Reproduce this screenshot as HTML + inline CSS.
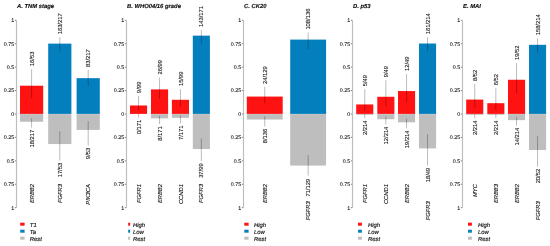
<!DOCTYPE html>
<html><head><meta charset="utf-8"><style>
html,body{margin:0;padding:0;background:#fff;}
svg{display:block;}
text{font-family:"Liberation Sans",Arial,sans-serif;fill:#111;stroke:#111;stroke-width:0.1px;text-rendering:geometricPrecision;}
.ti{font-size:5.85px;stroke-width:0.15px;font-weight:bold;font-style:italic;}
.tk{font-size:5.3px;text-anchor:end;stroke-width:0.08px;}
.vl{font-size:5.8px;}
.gn{font-size:5.8px;font-style:italic;text-anchor:end;}
.lg{font-size:5.9px;stroke-width:0.15px;font-style:italic;}
.ax{stroke:#bdbdbd;stroke-width:1.15;}
.tkl{stroke:#777;stroke-width:0.9;}
.er{stroke:#000;stroke-opacity:0.27;stroke-width:1;}
</style></head><body>
<svg width="550" height="246" viewBox="0 0 550 246">
<rect width="550" height="246" fill="#fff"/>
<text x="17" y="8.4" class="ti">A. TNM stage</text>
<line x1="16.5" y1="20.3" x2="16.5" y2="207.7" class="ax"/>
<line x1="14.8" y1="207.7" x2="16.2" y2="207.7" class="tkl"/>
<text x="14.1" y="209.6" class="tk">1</text>
<line x1="14.8" y1="184.28" x2="16.2" y2="184.28" class="tkl"/>
<text x="14.1" y="186.18" class="tk">0.75</text>
<line x1="14.8" y1="160.85" x2="16.2" y2="160.85" class="tkl"/>
<text x="14.1" y="162.75" class="tk">0.5</text>
<line x1="14.8" y1="137.43" x2="16.2" y2="137.43" class="tkl"/>
<text x="14.1" y="139.33" class="tk">0.25</text>
<line x1="14.8" y1="114" x2="16.2" y2="114" class="tkl"/>
<text x="14.1" y="115.9" class="tk">0</text>
<line x1="14.8" y1="90.58" x2="16.2" y2="90.58" class="tkl"/>
<text x="14.1" y="92.48" class="tk">0.25</text>
<line x1="14.8" y1="67.15" x2="16.2" y2="67.15" class="tkl"/>
<text x="14.1" y="69.05" class="tk">0.5</text>
<line x1="14.8" y1="43.72" x2="16.2" y2="43.72" class="tkl"/>
<text x="14.1" y="45.62" class="tk">0.75</text>
<line x1="14.8" y1="20.3" x2="16.2" y2="20.3" class="tkl"/>
<text x="14.1" y="22.2" class="tk">1</text>
<rect x="20" y="85.71" width="23.2" height="28.19" fill="#FF1212"/>
<rect x="20" y="114.1" width="23.2" height="7.67" fill="#BEBEBE"/>
<line x1="31.6" y1="69.15" x2="31.6" y2="98.14" class="er"/>
<line x1="31.6" y1="118.33" x2="31.6" y2="127.53" class="er"/>
<text transform="translate(33.69,66.15) rotate(-90)" class="vl">16/53</text>
<text transform="translate(33.69,129.73) rotate(-90)" class="vl" text-anchor="end">18/217</text>
<text transform="translate(33.69,184.1) rotate(-90)" class="gn">ERBB2</text>
<rect x="48.2" y="43.62" width="23.2" height="70.28" fill="#047FBD"/>
<rect x="48.2" y="114.1" width="23.2" height="29.95" fill="#BEBEBE"/>
<line x1="59.8" y1="37.3" x2="59.8" y2="51.33" class="er"/>
<line x1="59.8" y1="131.22" x2="59.8" y2="160.63" class="er"/>
<text transform="translate(61.89,34.3) rotate(-90)" class="vl">163/217</text>
<text transform="translate(61.89,162.83) rotate(-90)" class="vl" text-anchor="end">17/53</text>
<text transform="translate(61.89,184.1) rotate(-90)" class="gn">FGFR3</text>
<rect x="76.6" y="78.16" width="23.2" height="35.74" fill="#047FBD"/>
<rect x="76.6" y="114.1" width="23.2" height="15.81" fill="#BEBEBE"/>
<line x1="88.2" y1="69.98" x2="88.2" y2="85.68" class="er"/>
<line x1="88.2" y1="121.12" x2="88.2" y2="145.58" class="er"/>
<text transform="translate(90.29,66.98) rotate(-90)" class="vl">83/217</text>
<text transform="translate(90.29,147.78) rotate(-90)" class="vl" text-anchor="end">9/53</text>
<text transform="translate(90.29,184.1) rotate(-90)" class="gn">PIK3CA</text>
<rect x="20.2" y="222.7" width="4.4" height="3.0" fill="#FF1212"/>
<text x="29.8" y="226.6" class="lg">T1</text>
<rect x="20.2" y="229.7" width="4.4" height="3.0" fill="#047FBD"/>
<text x="29.8" y="233.55" class="lg">Ta</text>
<rect x="20.2" y="236.7" width="4.4" height="3.0" fill="#BEBEBE"/>
<text x="29.8" y="240.5" class="lg">Rest</text>
<text x="127" y="8.4" class="ti">B. WHO04/16 grade</text>
<line x1="126.5" y1="20.3" x2="126.5" y2="207.7" class="ax"/>
<line x1="124.8" y1="207.7" x2="126.2" y2="207.7" class="tkl"/>
<text x="124.1" y="209.6" class="tk">1</text>
<line x1="124.8" y1="184.28" x2="126.2" y2="184.28" class="tkl"/>
<text x="124.1" y="186.18" class="tk">0.75</text>
<line x1="124.8" y1="160.85" x2="126.2" y2="160.85" class="tkl"/>
<text x="124.1" y="162.75" class="tk">0.5</text>
<line x1="124.8" y1="137.43" x2="126.2" y2="137.43" class="tkl"/>
<text x="124.1" y="139.33" class="tk">0.25</text>
<line x1="124.8" y1="114" x2="126.2" y2="114" class="tkl"/>
<text x="124.1" y="115.9" class="tk">0</text>
<line x1="124.8" y1="90.58" x2="126.2" y2="90.58" class="tkl"/>
<text x="124.1" y="92.48" class="tk">0.25</text>
<line x1="124.8" y1="67.15" x2="126.2" y2="67.15" class="tkl"/>
<text x="124.1" y="69.05" class="tk">0.5</text>
<line x1="124.8" y1="43.72" x2="126.2" y2="43.72" class="tkl"/>
<text x="124.1" y="45.62" class="tk">0.75</text>
<line x1="124.8" y1="20.3" x2="126.2" y2="20.3" class="tkl"/>
<text x="124.1" y="22.2" class="tk">1</text>
<rect x="130" y="105.48" width="17.1" height="8.42" fill="#FF1212"/>
<line x1="138.55" y1="95.91" x2="138.55" y2="110.24" class="er"/>
<line x1="138.55" y1="114" x2="138.55" y2="117.5" class="er"/>
<text transform="translate(140.64,92.91) rotate(-90)" class="vl">9/99</text>
<text transform="translate(140.64,119.7) rotate(-90)" class="vl" text-anchor="end">0/171</text>
<text transform="translate(140.64,184.1) rotate(-90)" class="gn">FGFR1</text>
<rect x="151" y="89.39" width="17.1" height="24.51" fill="#FF1212"/>
<rect x="151" y="114.1" width="17.1" height="4.28" fill="#BEBEBE"/>
<line x1="159.55" y1="77.57" x2="159.55" y2="98.42" class="er"/>
<line x1="159.55" y1="115.83" x2="159.55" y2="124.11" class="er"/>
<text transform="translate(161.64,74.57) rotate(-90)" class="vl">26/99</text>
<text transform="translate(161.64,126.31) rotate(-90)" class="vl" text-anchor="end">8/171</text>
<text transform="translate(161.64,184.1) rotate(-90)" class="gn">ERBB2</text>
<rect x="171.9" y="99.8" width="17.1" height="14.1" fill="#FF1212"/>
<rect x="171.9" y="114.1" width="17.1" height="3.74" fill="#BEBEBE"/>
<line x1="180.45" y1="89.09" x2="180.45" y2="106.42" class="er"/>
<line x1="180.45" y1="115.51" x2="180.45" y2="123.37" class="er"/>
<text transform="translate(182.54,86.09) rotate(-90)" class="vl">15/99</text>
<text transform="translate(182.54,125.57) rotate(-90)" class="vl" text-anchor="end">7/171</text>
<text transform="translate(182.54,184.1) rotate(-90)" class="gn">CCND1</text>
<rect x="192.8" y="35.64" width="17.1" height="78.26" fill="#047FBD"/>
<rect x="192.8" y="114.1" width="17.1" height="34.92" fill="#BEBEBE"/>
<line x1="201.35" y1="30.02" x2="201.35" y2="43.62" class="er"/>
<line x1="201.35" y1="138.38" x2="201.35" y2="161.15" class="er"/>
<text transform="translate(203.44,27.02) rotate(-90)" class="vl">143/171</text>
<text transform="translate(203.44,163.35) rotate(-90)" class="vl" text-anchor="end">37/99</text>
<text transform="translate(203.44,184.1) rotate(-90)" class="gn">FGFR3</text>
<rect x="128.2" y="222.7" width="1.9" height="3.0" fill="#FF1212"/>
<text x="133" y="226.6" class="lg">High</text>
<rect x="128.2" y="229.7" width="1.9" height="3.0" fill="#047FBD"/>
<text x="133" y="233.55" class="lg">Low</text>
<rect x="128.2" y="236.7" width="1.9" height="3.0" fill="#BEBEBE"/>
<text x="133" y="240.5" class="lg">Rest</text>
<text x="244" y="8.4" class="ti">C. CK20</text>
<line x1="243.5" y1="20.3" x2="243.5" y2="207.7" class="ax"/>
<line x1="241.8" y1="207.7" x2="243.2" y2="207.7" class="tkl"/>
<text x="241.1" y="209.6" class="tk">1</text>
<line x1="241.8" y1="184.28" x2="243.2" y2="184.28" class="tkl"/>
<text x="241.1" y="186.18" class="tk">0.75</text>
<line x1="241.8" y1="160.85" x2="243.2" y2="160.85" class="tkl"/>
<text x="241.1" y="162.75" class="tk">0.5</text>
<line x1="241.8" y1="137.43" x2="243.2" y2="137.43" class="tkl"/>
<text x="241.1" y="139.33" class="tk">0.25</text>
<line x1="241.8" y1="114" x2="243.2" y2="114" class="tkl"/>
<text x="241.1" y="115.9" class="tk">0</text>
<line x1="241.8" y1="90.58" x2="243.2" y2="90.58" class="tkl"/>
<text x="241.1" y="92.48" class="tk">0.25</text>
<line x1="241.8" y1="67.15" x2="243.2" y2="67.15" class="tkl"/>
<text x="241.1" y="69.05" class="tk">0.5</text>
<line x1="241.8" y1="43.72" x2="243.2" y2="43.72" class="tkl"/>
<text x="241.1" y="45.62" class="tk">0.75</text>
<line x1="241.8" y1="20.3" x2="243.2" y2="20.3" class="tkl"/>
<text x="241.1" y="22.2" class="tk">1</text>
<rect x="246.8" y="96.57" width="35.9" height="17.33" fill="#FF1212"/>
<rect x="246.8" y="114.1" width="35.9" height="5.41" fill="#BEBEBE"/>
<line x1="264.75" y1="86.94" x2="264.75" y2="103.32" class="er"/>
<line x1="264.75" y1="116.31" x2="264.75" y2="126.56" class="er"/>
<text transform="translate(266.84,83.94) rotate(-90)" class="vl">24/129</text>
<text transform="translate(266.84,128.76) rotate(-90)" class="vl" text-anchor="end">8/136</text>
<text transform="translate(266.84,184.1) rotate(-90)" class="gn">ERBB2</text>
<rect x="290.2" y="39.59" width="35.9" height="74.31" fill="#047FBD"/>
<rect x="290.2" y="114.1" width="35.9" height="51.47" fill="#BEBEBE"/>
<line x1="308.15" y1="32.6" x2="308.15" y2="49.14" class="er"/>
<line x1="308.15" y1="155.03" x2="308.15" y2="175.65" class="er"/>
<text transform="translate(310.24,29.6) rotate(-90)" class="vl">108/136</text>
<text transform="translate(310.24,178.85) rotate(-90)" class="vl" text-anchor="end">71/129</text>
<text transform="translate(310.24,201.3) rotate(-90)" class="gn">FGFR3</text>
<rect x="244.3" y="222.7" width="4.3" height="3.0" fill="#FF1212"/>
<text x="254" y="226.6" class="lg">High</text>
<rect x="244.3" y="229.7" width="4.3" height="3.0" fill="#047FBD"/>
<text x="254" y="233.55" class="lg">Low</text>
<rect x="244.3" y="236.7" width="4.3" height="3.0" fill="#BEBEBE"/>
<text x="254" y="240.5" class="lg">Rest</text>
<text x="353" y="8.4" class="ti">D. p53</text>
<line x1="352.5" y1="20.3" x2="352.5" y2="207.7" class="ax"/>
<line x1="350.8" y1="207.7" x2="352.2" y2="207.7" class="tkl"/>
<text x="350.1" y="209.6" class="tk">1</text>
<line x1="350.8" y1="184.28" x2="352.2" y2="184.28" class="tkl"/>
<text x="350.1" y="186.18" class="tk">0.75</text>
<line x1="350.8" y1="160.85" x2="352.2" y2="160.85" class="tkl"/>
<text x="350.1" y="162.75" class="tk">0.5</text>
<line x1="350.8" y1="137.43" x2="352.2" y2="137.43" class="tkl"/>
<text x="350.1" y="139.33" class="tk">0.25</text>
<line x1="350.8" y1="114" x2="352.2" y2="114" class="tkl"/>
<text x="350.1" y="115.9" class="tk">0</text>
<line x1="350.8" y1="90.58" x2="352.2" y2="90.58" class="tkl"/>
<text x="350.1" y="92.48" class="tk">0.25</text>
<line x1="350.8" y1="67.15" x2="352.2" y2="67.15" class="tkl"/>
<text x="350.1" y="69.05" class="tk">0.5</text>
<line x1="350.8" y1="43.72" x2="352.2" y2="43.72" class="tkl"/>
<text x="350.1" y="45.62" class="tk">0.75</text>
<line x1="350.8" y1="20.3" x2="352.2" y2="20.3" class="tkl"/>
<text x="350.1" y="22.2" class="tk">1</text>
<rect x="356.2" y="104.44" width="17.1" height="9.46" fill="#FF1212"/>
<rect x="356.2" y="114.1" width="17.1" height="0.78" fill="#BEBEBE"/>
<line x1="364.75" y1="89.23" x2="364.75" y2="110.75" class="er"/>
<line x1="364.75" y1="114.17" x2="364.75" y2="118.35" class="er"/>
<text transform="translate(366.84,86.23) rotate(-90)" class="vl">5/49</text>
<text transform="translate(366.84,120.55) rotate(-90)" class="vl" text-anchor="end">2/214</text>
<text transform="translate(366.84,184.1) rotate(-90)" class="gn">FGFR1</text>
<rect x="377.3" y="96.79" width="17.1" height="17.11" fill="#FF1212"/>
<rect x="377.3" y="114.1" width="17.1" height="5.15" fill="#BEBEBE"/>
<line x1="385.85" y1="80.24" x2="385.85" y2="106.27" class="er"/>
<line x1="385.85" y1="116.56" x2="385.85" y2="124.45" class="er"/>
<text transform="translate(387.94,77.24) rotate(-90)" class="vl">9/49</text>
<text transform="translate(387.94,126.65) rotate(-90)" class="vl" text-anchor="end">12/214</text>
<text transform="translate(387.94,184.1) rotate(-90)" class="gn">CCND1</text>
<rect x="398" y="91.05" width="17.1" height="22.85" fill="#FF1212"/>
<rect x="398" y="114.1" width="17.1" height="8.22" fill="#BEBEBE"/>
<line x1="406.55" y1="74" x2="406.55" y2="102.41" class="er"/>
<line x1="406.55" y1="118.71" x2="406.55" y2="128.24" class="er"/>
<text transform="translate(408.64,71) rotate(-90)" class="vl">12/49</text>
<text transform="translate(408.64,130.44) rotate(-90)" class="vl" text-anchor="end">19/214</text>
<text transform="translate(408.64,184.1) rotate(-90)" class="gn">ERBB2</text>
<rect x="419" y="43.51" width="17.1" height="70.39" fill="#047FBD"/>
<rect x="419" y="114.1" width="17.1" height="34.32" fill="#BEBEBE"/>
<line x1="427.55" y1="37.17" x2="427.55" y2="51.27" class="er"/>
<line x1="427.55" y1="134.23" x2="427.55" y2="165.57" class="er"/>
<text transform="translate(429.64,34.17) rotate(-90)" class="vl">161/214</text>
<text transform="translate(429.64,167.77) rotate(-90)" class="vl" text-anchor="end">18/49</text>
<text transform="translate(429.64,201.3) rotate(-90)" class="gn">FGFR3</text>
<rect x="358" y="222.7" width="3.9" height="3.0" fill="#FF1212"/>
<text x="368" y="226.6" class="lg">High</text>
<rect x="358" y="229.7" width="3.9" height="3.0" fill="#047FBD"/>
<text x="368" y="233.55" class="lg">Low</text>
<rect x="358" y="236.7" width="3.9" height="3.0" fill="#BEBEBE"/>
<text x="368" y="240.5" class="lg">Rest</text>
<text x="463" y="8.4" class="ti">E. MAI</text>
<line x1="462.5" y1="20.3" x2="462.5" y2="207.7" class="ax"/>
<line x1="460.8" y1="207.7" x2="462.2" y2="207.7" class="tkl"/>
<text x="460.1" y="209.6" class="tk">1</text>
<line x1="460.8" y1="184.28" x2="462.2" y2="184.28" class="tkl"/>
<text x="460.1" y="186.18" class="tk">0.75</text>
<line x1="460.8" y1="160.85" x2="462.2" y2="160.85" class="tkl"/>
<text x="460.1" y="162.75" class="tk">0.5</text>
<line x1="460.8" y1="137.43" x2="462.2" y2="137.43" class="tkl"/>
<text x="460.1" y="139.33" class="tk">0.25</text>
<line x1="460.8" y1="114" x2="462.2" y2="114" class="tkl"/>
<text x="460.1" y="115.9" class="tk">0</text>
<line x1="460.8" y1="90.58" x2="462.2" y2="90.58" class="tkl"/>
<text x="460.1" y="92.48" class="tk">0.25</text>
<line x1="460.8" y1="67.15" x2="462.2" y2="67.15" class="tkl"/>
<text x="460.1" y="69.05" class="tk">0.5</text>
<line x1="460.8" y1="43.72" x2="462.2" y2="43.72" class="tkl"/>
<text x="460.1" y="45.62" class="tk">0.75</text>
<line x1="460.8" y1="20.3" x2="462.2" y2="20.3" class="tkl"/>
<text x="460.1" y="22.2" class="tk">1</text>
<rect x="466.2" y="99.58" width="17.1" height="14.32" fill="#FF1212"/>
<rect x="466.2" y="114.1" width="17.1" height="0.78" fill="#BEBEBE"/>
<line x1="474.75" y1="83.96" x2="474.75" y2="107.86" class="er"/>
<line x1="474.75" y1="114.17" x2="474.75" y2="118.35" class="er"/>
<text transform="translate(476.84,80.96) rotate(-90)" class="vl">8/52</text>
<text transform="translate(476.84,120.55) rotate(-90)" class="vl" text-anchor="end">2/214</text>
<text transform="translate(476.84,184.1) rotate(-90)" class="gn">MYC</text>
<rect x="487.3" y="103.19" width="17.1" height="10.71" fill="#FF1212"/>
<rect x="487.3" y="114.1" width="17.1" height="0.78" fill="#BEBEBE"/>
<line x1="495.85" y1="88.25" x2="495.85" y2="109.97" class="er"/>
<line x1="495.85" y1="114.17" x2="495.85" y2="118.35" class="er"/>
<text transform="translate(497.94,85.25) rotate(-90)" class="vl">6/52</text>
<text transform="translate(497.94,120.55) rotate(-90)" class="vl" text-anchor="end">2/214</text>
<text transform="translate(497.94,184.1) rotate(-90)" class="gn">ERBB3</text>
<rect x="508" y="79.76" width="17.1" height="34.14" fill="#FF1212"/>
<rect x="508" y="114.1" width="17.1" height="6.03" fill="#BEBEBE"/>
<line x1="516.55" y1="63.09" x2="516.55" y2="93.58" class="er"/>
<line x1="516.55" y1="117.15" x2="516.55" y2="125.55" class="er"/>
<text transform="translate(518.64,60.09) rotate(-90)" class="vl">19/52</text>
<text transform="translate(518.64,127.75) rotate(-90)" class="vl" text-anchor="end">14/214</text>
<text transform="translate(518.64,184.1) rotate(-90)" class="gn">ERBB2</text>
<rect x="529" y="44.82" width="17.1" height="69.08" fill="#047FBD"/>
<rect x="529" y="114.1" width="17.1" height="35.94" fill="#BEBEBE"/>
<line x1="537.55" y1="38.32" x2="537.55" y2="52.66" class="er"/>
<line x1="537.55" y1="135.88" x2="537.55" y2="166.64" class="er"/>
<text transform="translate(539.64,35.32) rotate(-90)" class="vl">158/214</text>
<text transform="translate(539.64,168.84) rotate(-90)" class="vl" text-anchor="end">20/52</text>
<text transform="translate(539.64,201.3) rotate(-90)" class="gn">FGFR3</text>
<rect x="468" y="222.7" width="3.9" height="3.0" fill="#FF1212"/>
<text x="478" y="226.6" class="lg">High</text>
<rect x="468" y="229.7" width="3.9" height="3.0" fill="#047FBD"/>
<text x="478" y="233.55" class="lg">Low</text>
<rect x="468" y="236.7" width="3.9" height="3.0" fill="#BEBEBE"/>
<text x="478" y="240.5" class="lg">Rest</text>
</svg>
</body></html>
